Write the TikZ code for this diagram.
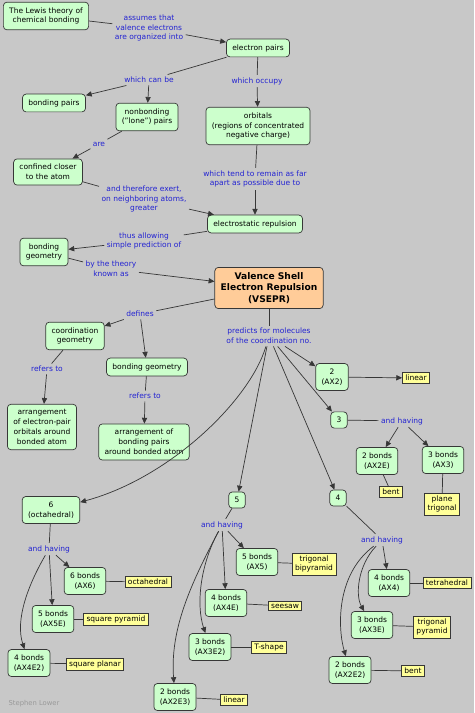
\documentclass[tikz,border=0pt]{standalone}
\usepackage{fontspec}
\setmainfont{DejaVu Sans}
\usetikzlibrary{arrows.meta}
\definecolor{bggray}{RGB}{200,200,200}
\definecolor{cgreen}{RGB}{204,255,204}
\definecolor{corange}{RGB}{255,204,153}
\definecolor{cyellow}{RGB}{255,255,153}
\definecolor{clink}{RGB}{35,35,210}
\definecolor{cline}{RGB}{55,55,55}

\begin{document}
\begin{tikzpicture}[x=0.03cm,y=-0.03cm,
  concept/.style={draw=cline,line width=0.6pt,fill=cgreen,rounded corners=3pt,align=center,
    inner xsep=5pt,inner ysep=4.5pt,font=\fontsize{6.4}{8.4}\selectfont},
  main/.style={concept,fill=corange,font=\fontsize{7.8}{9.6}\selectfont\bfseries},
  result/.style={draw=cline,line width=0.6pt,fill=cyellow,align=center,
    inner xsep=2.5pt,inner ysep=2pt,font=\fontsize{6.4}{8.4}\selectfont},
  link/.style={text=clink,align=center,inner sep=2pt,font=\fontsize{6.4}{8.4}\selectfont},
  credit/.style={text=black!40,font=\fontsize{5.8}{7}\selectfont},
  con/.style={draw=cline,line width=0.6pt},
  arr/.style={-{Triangle[length=5pt,width=4.5pt]}}]
\useasboundingbox (0,0) rectangle (474,713);
\fill[bggray] (0,0) rectangle (474,713);

\node[concept] (lewis) at (46,16) {The Lewis theory of\\chemical bonding};
\node[link] (lAssume) at (149,28) {assumes that\\valence electrons\\are organized into};
\node[concept] (epairs) at (258,48) {electron pairs};
\node[link] (lCanBe) at (149,80) {which can be};
\node[concept] (bpairs) at (54,103) {bonding pairs};
\node[concept] (nbpairs) at (147,117) {nonbonding\\("lone") pairs};
\node[link] (lOccupy) at (257,81) {which occupy};
\node[concept] (orbitals) at (258,126) {orbitals\\(regions of concentrated\\negative charge)};
\node[link] (lAre) at (99,144) {are};
\node[concept] (confined) at (48,172) {confined closer\\to the atom};
\node[link] (lTend) at (255,179) {which tend to remain as far\\apart as possible due to};
\node[link] (lExert) at (144,199) {and therefore exert,\\on neighboring atoms,\\greater};
\node[concept] (repulsion) at (255,224) {electrostatic repulsion};
\node[link] (lAllow) at (144,241) {thus allowing\\simple prediction of};
\node[concept] (bgeomA) at (44,252) {bonding\\geometry};
\node[link] (lTheory) at (111,269) {by the theory\\known as};
\node[main] (vsepr) at (269,288) {Valence Shell\\Electron Repulsion\\(VSEPR)};
\node[link] (lDefines) at (140,314) {defines};
\node[concept] (coordgeom) at (75,336) {coordination\\geometry};
\node[link] (lPredicts) at (269,336) {predicts for molecules\\of the coordination no.};
\node[concept] (bgeomB) at (147,367) {bonding geometry};
\node[link] (lReferA) at (47,369) {refers to};
\node[link] (lReferB) at (145,396) {refers to};
\node[concept] (arrangeA) at (42,427) {arrangement\\of electron-pair\\orbitals around\\bonded atom};
\node[concept] (arrangeB) at (144,442) {arrangement of\\bonding pairs\\around bonded atom};

\node[concept] (cnTwo) at (332,377) {2\\(AX2)};
\node[result] (rLinearA) at (416,378) {linear};
\node[concept] (cnThree) at (339,420) {3};
\node[link] (lHaveThree) at (402,421) {and having};
\node[concept] (ax2e) at (377,461) {2 bonds\\(AX2E)};
\node[concept] (ax3) at (443,460) {3 bonds\\(AX3)};
\node[result] (rBentA) at (391,492) {bent};
\node[result] (rPlane) at (442,504) {plane\\trigonal};

\node[concept] (cnSix) at (51,510) {6\\(octahedral)};
\node[link] (lHaveSix) at (49,549) {and having};
\node[concept] (ax6) at (85,581) {6 bonds\\(AX6)};
\node[result] (rOcta) at (148,582) {octahedral};
\node[concept] (ax5e) at (53,619) {5 bonds\\(AX5E)};
\node[result] (rSqPyr) at (116,619) {square pyramid};
\node[concept] (ax4e2) at (29,663) {4 bonds\\(AX4E2)};
\node[result] (rSqPlan) at (95,664) {square planar};

\node[concept] (cnFive) at (237,500) {5};
\node[link] (lHaveFive) at (222,525) {and having};
\node[concept] (ax5) at (257,562) {5 bonds\\(AX5)};
\node[result] (rTbp) at (314,564) {trigonal\\bipyramid};
\node[concept] (ax4e) at (226,603) {4 bonds\\(AX4E)};
\node[result] (rSeesaw) at (285,606) {seesaw};
\node[concept] (ax3e2) at (210,647) {3 bonds\\(AX3E2)};
\node[result] (rTshape) at (269,647) {T-shape};
\node[concept] (ax2e3) at (175,697) {2 bonds\\(AX2E3)};
\node[result] (rLinearB) at (234,700) {linear};

\node[concept] (cnFour) at (338,498) {4};
\node[link] (lHaveFour) at (382,540) {and having};
\node[concept] (ax4) at (389,583) {4 bonds\\(AX4)};
\node[result] (rTetra) at (447,583) {tetrahedral};
\node[concept] (ax3e) at (372,625) {3 bonds\\(AX3E)};
\node[result] (rTriPyr) at (432,627) {trigonal\\pyramid};
\node[concept] (ax2e2) at (350,670) {2 bonds\\(AX2E2)};
\node[result] (rBentB) at (413,671) {bent};

\node[credit] (credit) at (34,704) {Stephen Lower};

\draw[con] (lewis) -- (lAssume);
\draw[con,arr] (lAssume) -- (epairs);
\draw[con] (epairs) -- (lCanBe);
\draw[con,arr] (lCanBe) -- (bpairs);
\draw[con,arr] (lCanBe) -- (nbpairs);
\draw[con] (epairs) -- (lOccupy);
\draw[con,arr] (lOccupy) -- (orbitals);
\draw[con] (nbpairs) -- (lAre);
\draw[con,arr] (lAre) -- (confined);
\draw[con] (orbitals) -- (lTend);
\draw[con,arr] (lTend) -- (repulsion);
\draw[con] (confined) -- (lExert);
\draw[con,arr] (lExert) -- (repulsion);
\draw[con] (repulsion) -- (lAllow);
\draw[con,arr] (lAllow) -- (bgeomA);
\draw[con] (bgeomA) -- (lTheory);
\draw[con,arr] (lTheory) -- (vsepr);
\draw[con] (vsepr) -- (lDefines);
\draw[con,arr] (lDefines) -- (coordgeom);
\draw[con,arr] (lDefines) -- (bgeomB);
\draw[con] (coordgeom) -- (lReferA);
\draw[con,arr] (lReferA) -- (arrangeA);
\draw[con] (bgeomB) -- (lReferB);
\draw[con,arr] (lReferB) -- (arrangeB);
\draw[con] (vsepr) -- (lPredicts);
\draw[con,arr] (lPredicts) -- (cnTwo);
\draw[con,arr] (lPredicts) -- (cnThree);
\draw[con,arr] (lPredicts) -- (cnFour);
\draw[con,arr] (lPredicts) -- (cnFive);
\draw[con,arr] (lPredicts) .. controls (250,400) and (170,478) .. (cnSix);

\draw[con,arr] (cnTwo) -- (rLinearA);
\draw[con] (cnThree) -- (lHaveThree);
\draw[con,arr] (lHaveThree) -- (ax2e);
\draw[con,arr] (lHaveThree) -- (ax3);
\draw[con] (ax2e) -- (rBentA);
\draw[con] (ax3) -- (rPlane);

\draw[con] (cnSix) -- (lHaveSix);
\draw[con,arr] (lHaveSix) -- (ax6);
\draw[con,arr] (lHaveSix) -- (ax5e);
\draw[con,arr] (lHaveSix) .. controls (28,585) and (15,620) .. (ax4e2);
\draw[con] (ax6) -- (rOcta);
\draw[con] (ax5e) -- (rSqPyr);
\draw[con] (ax4e2) -- (rSqPlan);

\draw[con] (cnFive) -- (lHaveFive);
\draw[con,arr] (lHaveFive) -- (ax5);
\draw[con,arr] (lHaveFive) -- (ax4e);
\draw[con,arr] (lHaveFive) .. controls (200,565) and (196,605) .. (ax3e2);
\draw[con,arr] (lHaveFive) .. controls (190,585) and (170,630) .. (ax2e3);
\draw[con] (ax5) -- (rTbp);
\draw[con] (ax4e) -- (rSeesaw);
\draw[con] (ax3e2) -- (rTshape);
\draw[con] (ax2e3) -- (rLinearB);

\draw[con] (cnFour) -- (lHaveFour);
\draw[con,arr] (lHaveFour) -- (ax4);
\draw[con,arr] (lHaveFour) .. controls (358,565) and (355,595) .. (ax3e);
\draw[con,arr] (lHaveFour) .. controls (335,575) and (338,630) .. (ax2e2);
\draw[con] (ax4) -- (rTetra);
\draw[con] (ax3e) -- (rTriPyr);
\draw[con] (ax2e2) -- (rBentB);
\end{tikzpicture}
\end{document}
